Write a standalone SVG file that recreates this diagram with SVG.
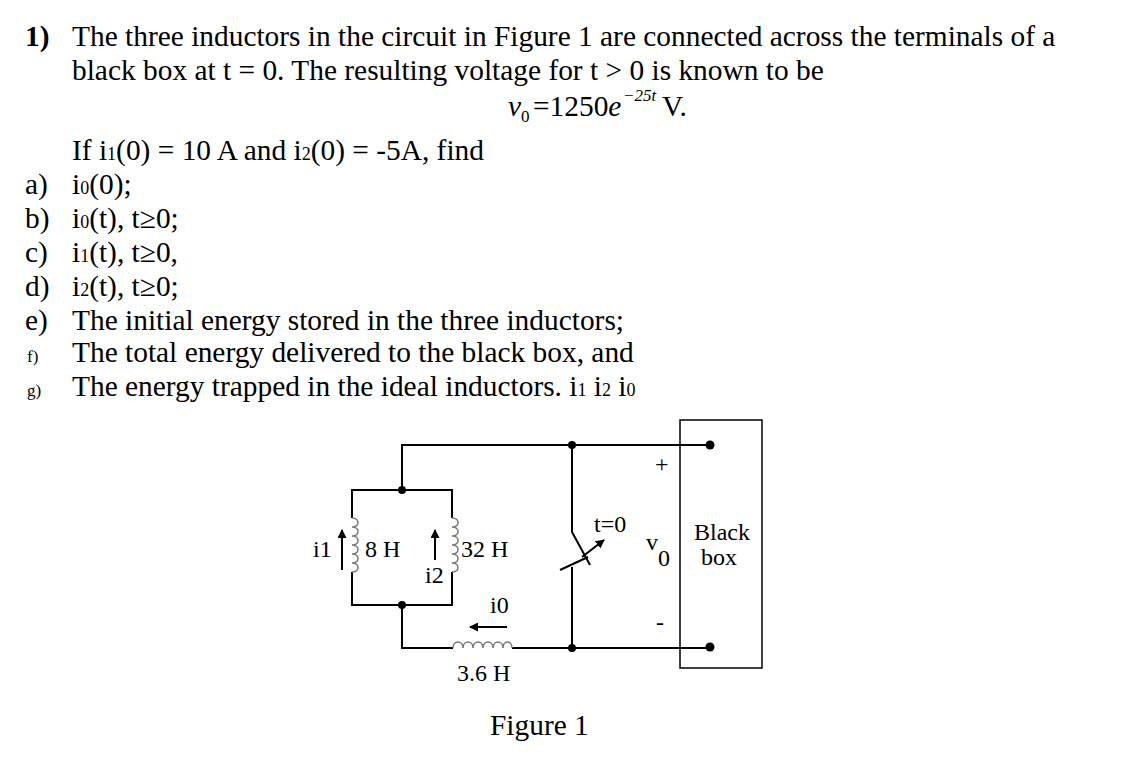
<svg xmlns="http://www.w3.org/2000/svg" width="1134" height="764" viewBox="0 0 1134 764">
<style>
.t{font-family:"Liberation Serif",serif;font-size:29.4px;fill:#000}
.s{font-family:"Liberation Serif",serif;font-size:17px;fill:#000}
.c{font-family:"Liberation Serif",serif;font-size:24px;fill:#000}
.w{stroke:#000;stroke-width:2;fill:none}
.coil{stroke:#777;stroke-width:1.5;fill:none}
</style>
<defs><marker id="ah" markerWidth="9" markerHeight="9" refX="8" refY="4.5" orient="auto" markerUnits="userSpaceOnUse"><path d="M0,0 L9,4.5 L0,9 z" fill="#000"/></marker></defs>
<rect width="1134" height="764" fill="#fff"/>
<g id="text">
<text class="t" x="25" y="46" font-weight="bold">1)</text>
<text class="t" x="72" y="46">The three inductors in the circuit in Figure 1 are connected across the terminals of a</text>
<text class="t" x="72" y="80">black box at t = 0. The resulting voltage for t &gt; 0 is known to be</text>
<text class="t" x="508" y="116" font-style="italic">v</text><text class="s" x="521" y="122">0</text>
<text class="t" x="533" y="116">=1250<tspan font-style="italic">e</tspan></text>
<text class="s" x="623" y="101" font-style="italic" font-size="15">−25t</text>
<text class="t" x="662" y="116">V.</text>
<text class="t" x="72" y="160">If i<tspan font-size="18">1</tspan>(0) = 10 A and i<tspan font-size="18">2</tspan>(0) = -5A, find</text>
<text class="t" x="25" y="194">a)</text><text class="t" x="72" y="194">i<tspan font-size="18">0</tspan>(0);</text>
<text class="t" x="25" y="228">b)</text><text class="t" x="72" y="228">i<tspan font-size="18">0</tspan>(t), t≥0;</text>
<text class="t" x="25" y="262">c)</text><text class="t" x="72" y="262">i<tspan font-size="18">1</tspan>(t), t≥0,</text>
<text class="t" x="25" y="296">d)</text><text class="t" x="72" y="296">i<tspan font-size="18">2</tspan>(t), t≥0;</text>
<text class="t" x="25" y="330">e)</text><text class="t" x="72" y="330">The initial energy stored in the three inductors;</text>
<text class="s" x="27" y="362">f)</text><text class="t" x="72" y="362">The total energy delivered to the black box, and</text>
<text class="s" x="27" y="396">g)</text><text class="t" x="72" y="396">The energy trapped in the ideal inductors.  i<tspan font-size="18">1</tspan> i<tspan font-size="18">2</tspan> i<tspan font-size="18">0</tspan></text>
<text class="t" x="490" y="735">Figure 1</text>
</g>
<g id="connectors">
<path class="w" d="M402,490 V445 H710 M352,518 V490 H452 V518 M352,572 V605 H452 V572 M402,605 V648 H453 M512,648 H710 M572,445 V532 L590,565 M572,567 V648"/>
<path class="w" d="M560,570 L588,557"/>
<path class="w" d="M582,557 L604,540" marker-end="url(#ah)"/>
</g>
<g id="L1"><path class="coil" d="M352,518 c8,0 8,9 0,9 c8,0 8,9 0,9 c8,0 8,9 0,9 c8,0 8,9 0,9 c8,0 8,9 0,9 c8,0 8,9 0,9"/>
<path class="w" d="M342,570 V530" marker-end="url(#ah)"/><text class="c" x="313" y="557" font-size="17">i1</text><text class="c" x="365" y="557">8 H</text></g>
<g id="L2"><path class="coil" d="M452,518 c8,0 8,9 0,9 c8,0 8,9 0,9 c8,0 8,9 0,9 c8,0 8,9 0,9 c8,0 8,9 0,9 c8,0 8,9 0,9"/>
<path class="w" d="M435,560 V530" marker-end="url(#ah)"/><text class="c" x="425" y="583" font-size="17">i2</text><text class="c" x="461" y="557">32 H</text></g>
<g id="L0"><path class="coil" d="M453,648 c0,-8 10,-8 10,0 c0,-8 10,-8 10,0 c0,-8 10,-8 10,0 c0,-8 10,-8 10,0 c0,-8 10,-8 10,0 c0,-8 9,-8 9,0"/>
<path class="w" d="M507,627 H470" marker-end="url(#ah)"/><text class="c" x="490" y="613" font-size="17">i0</text><text class="c" x="457" y="681">3.6 H</text></g>
<g id="switch"><text class="c" x="594" y="532">t=0</text></g>
<g id="dots" fill="#000"><circle cx="402" cy="490" r="4"/><circle cx="402" cy="605" r="4"/><circle cx="572" cy="445" r="4"/><circle cx="572" cy="648" r="4"/><circle cx="710" cy="445" r="4.5"/><circle cx="710" cy="647" r="4.5"/></g>
<g id="vo"><text class="c" x="655" y="472">+</text><text class="c" x="646" y="550" font-size="19">v</text><text class="c" x="658" y="566" font-size="21">0</text><text class="c" x="656" y="630">-</text></g>
<g id="blackbox"><rect x="680" y="420" width="82" height="248" fill="none" stroke="#000" stroke-width="1.5"/><text class="c" x="694" y="540">Black</text><text class="c" x="701" y="565">box</text></g>
</svg>
